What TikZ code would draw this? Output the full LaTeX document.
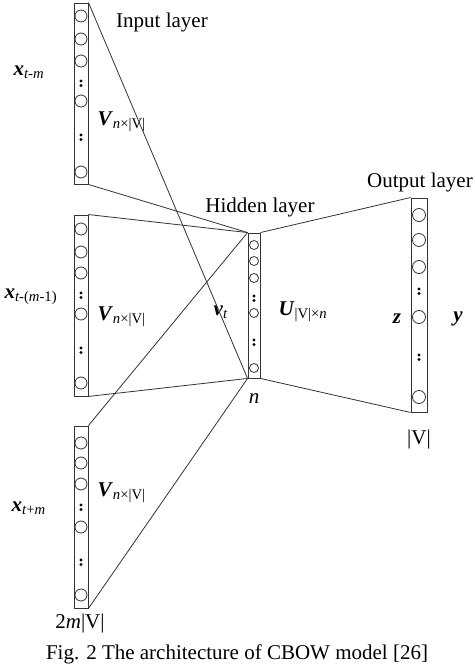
\documentclass[tikz,border=0pt]{standalone}
\usepackage{fontspec}
\setmainfont{Liberation Serif}
\begin{document}
\begin{tikzpicture}[x=1pt, y=-1pt,
  every node/.style={font=\fontsize{21}{25}\selectfont},
  col/.style={draw=black!80, line width=0.9pt, minimum width=14, inner sep=0},
  unit/.style={draw=black!80, line width=0.8pt, circle, minimum size=12, inner sep=0},
  hunit/.style={unit, minimum size=9},
  ounit/.style={unit, minimum size=13},
  dot/.style={fill=black, circle, minimum size=3.2, inner sep=0},
  link/.style={draw=black!80, line width=0.8pt}]

\useasboundingbox (0,0) rectangle (474,666);

% Couche d'entrée x_{t-m}
\node[col, minimum height=181] (in1) at (81,93.5) {};
\node[unit] (a1) at (81,16) {};
\node[unit] (a2) at (81,39) {};
\node[unit] (a3) at (81,61) {};
\node[dot] at (81,81) {};
\node[dot] at (81,85.5) {};
\node[unit] (a4) at (81,101) {};
\node[dot] at (81,135) {};
\node[dot] at (81,139.5) {};
\node[unit] (a5) at (81,172) {};
\node at (162,22) {Input layer};
\node[anchor=west] (xa) at (10,72) {\textbf{\textit{x}}\textsubscript{\textit{t-m}}};
\node[anchor=west] (va) at (94,122) {\textbf{\textit{V}}\textsubscript{\textit{n}×|V|}};

% Couche d'entrée x_{t-(m-1)}
\node[col, minimum height=181] (in2) at (81,305.5) {};
\node[unit] (b1) at (81,229) {};
\node[unit] (b2) at (81,252) {};
\node[unit] (b3) at (81,273) {};
\node[dot] at (81,293) {};
\node[dot] at (81,297.5) {};
\node[unit] (b4) at (81,314) {};
\node[dot] at (81,348) {};
\node[dot] at (81,352.5) {};
\node[unit] (b5) at (81,383) {};
\node[anchor=west] (xb) at (1,297) {\textbf{\textit{x}}\textsubscript{\textit{t-}(\textit{m}-1)}};
\node[anchor=west] (vb) at (94,317) {\textbf{\textit{V}}\textsubscript{\textit{n}×|V|}};

% Couche d'entrée x_{t+m}
\node[col, minimum height=182] (in3) at (81,517) {};
\node[unit] (c1) at (81,443) {};
\node[unit] (c2) at (81,463) {};
\node[unit] (c3) at (81,484) {};
\node[dot] at (81,505) {};
\node[dot] at (81,509.5) {};
\node[unit] (c4) at (81,527) {};
\node[dot] at (81,560) {};
\node[dot] at (81,564.5) {};
\node[unit] (c5) at (81,595) {};
\node[anchor=west] (xc) at (8,508) {\textbf{\textit{x}}\textsubscript{\textit{t}+\textit{m}}};
\node[anchor=west] (vc) at (94,493) {\textbf{\textit{V}}\textsubscript{\textit{n}×|V|}};
\node (nc) at (80,623) {2\textit{m}|V|};

% Couche cachée
\node[col, minimum width=12, minimum height=145] (hid) at (254,305.5) {};
\node[hunit] (h1) at (254,245) {};
\node[hunit] (h2) at (254,261) {};
\node[hunit] (h3) at (254,278) {};
\node[dot] at (254,296) {};
\node[dot] at (254,300.5) {};
\node[hunit] (h4) at (254,313) {};
\node[dot] at (254,340) {};
\node[dot] at (254,344.5) {};
\node[hunit] (h5) at (254,368) {};
\node at (260,207) {Hidden layer};
\node[anchor=west] (vt) at (210,312) {\textbf{\textit{v}}\textsubscript{\textit{t}}};
\node (nh) at (254,399) {\textit{n}};

% Couche de sortie
\node[col, minimum width=16, minimum height=214] (out) at (419,305) {};
\node[ounit] (o1) at (419,215) {};
\node[ounit] (o2) at (419,240) {};
\node[ounit] (o3) at (419,267) {};
\node[dot] at (419,289) {};
\node[dot] at (419,293.5) {};
\node[ounit] (o4) at (419,317) {};
\node[dot] at (419,355) {};
\node[dot] at (419,359.5) {};
\node[ounit] (o5) at (419,397) {};
\node at (420,182) {Output layer};
\node[anchor=west] (uu) at (275,312) {\textbf{\textit{U}}\textsubscript{|V|×\textit{n}}};
\node (zz) at (397,319) {\textbf{\textit{z}}};
\node (yy) at (458,319) {\textbf{\textit{y}}};
\node (no) at (419,439) {|V|};

% Liaisons
\draw[link] (in1.north east) -- (hid.south west);
\draw[link] (in1.south east) -- (hid.north west);
\draw[link] (in2.north east) -- (hid.north west);
\draw[link] (in2.south east) -- (hid.south west);
\draw[link] (in3.north east) -- (hid.north west);
\draw[link] (in3.south east) -- (hid.south west);
\draw[link] (hid.north east) -- (out.north west);
\draw[link] (hid.south east) -- (out.south west);

% Légende
\node[anchor=south, inner sep=0] (cap) at (237,664) {Fig. 2 The architecture of CBOW model [26]};

\end{tikzpicture}
\end{document}
